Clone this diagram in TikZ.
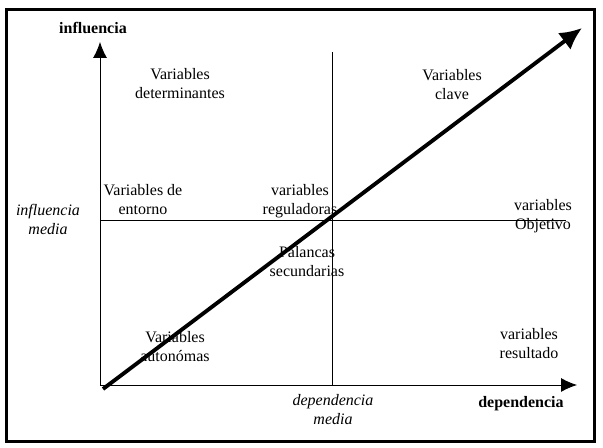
\documentclass[tikz,border=0pt]{standalone}
\usepackage{fontspec}
\setmainfont{Liberation Serif}
\usetikzlibrary{arrows.meta}

\tikzset{
	lbl/.style={inner sep=0pt, align=center, font=\fontsize{9.1}{10.8}\selectfont},
	axislbl/.style={lbl, font=\fontsize{9.1}{10.8}\selectfont\bfseries},
	midlbl/.style={lbl, font=\fontsize{9.1}{10.8}\selectfont\itshape},
}

\begin{document}
\begin{tikzpicture}[x=0.02cm,y=-0.02cm]
		\useasboundingbox (0,0) rectangle (603,448);
		\draw[line width=0.06cm] (6.5,9.5) rectangle (594,442);
		
		\coordinate (origin) at (100,385);
		\coordinate (ytop) at (100,42);
		\coordinate (xend) at (577,385);
		\coordinate (vtop) at (332,52);
		\coordinate (hleft) at (100,220);
		\coordinate (hright) at (566,220);
		\coordinate (dstart) at (103,389);
		\coordinate (dend) at (582,28);
		
		\draw[->,>={Latex[length=0.32cm,width=0.28cm]}, line width=0.5pt] (origin) -- (ytop);
		\draw[->,>={Latex[length=0.32cm,width=0.28cm]}, line width=0.5pt] (origin) -- (xend);
		\draw[line width=0.5pt] (332,385) -- (vtop);
		\draw[line width=0.5pt] (hleft) -- (hright);
		\draw[->,>={Latex[length=0.44cm,width=0.42cm]}, line width=2.2pt] (dstart) -- (dend);
		
		\node[axislbl] (influencia) at (93,28) {influencia};
		\node[axislbl] (dependencia) at (521,404) {dependencia};
		\node[midlbl] (inflmedia) at (48,219) {influencia\\media};
		\node[midlbl] (depmedia) at (333,410) {dependencia\\media};
		
		\node[lbl] (determinantes) at (180,84) {Variables\\determinantes};
		\node[lbl] (entorno) at (143,200) {Variables de\\entorno};
		\node[lbl] (reguladoras) at (300,201) {variables\\reguladoras};
		\node[lbl] (clave) at (452,85) {Variables\\clave};
		\node[lbl] (objetivo) at (543,216) {variables\\Objetivo};
		\node[lbl] (palancas) at (307,262) {Palancas\\secundarias};
		\node[lbl] (autonomas) at (175,347) {Variables\\autonómas};
		\node[lbl] (resultado) at (529,344) {variables\\resultado};
		
		\end{tikzpicture}
\end{document}
